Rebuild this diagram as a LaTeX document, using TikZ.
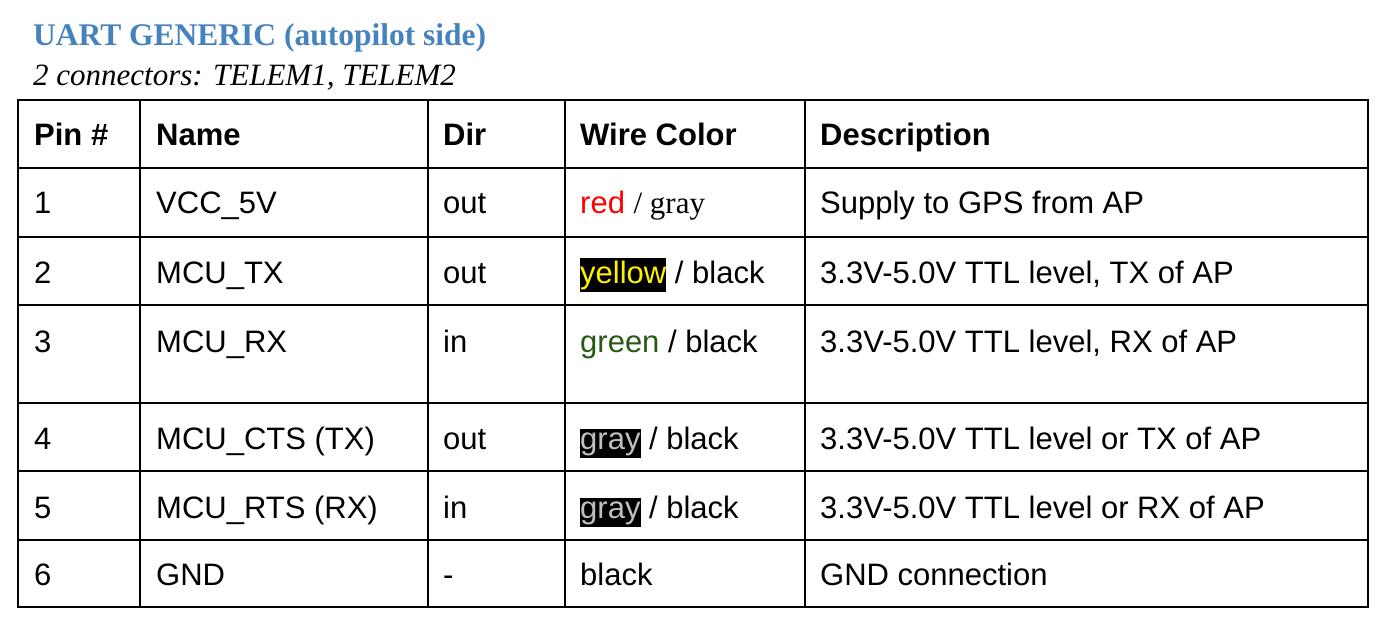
\documentclass[tikz,border=0pt]{standalone}
\usepackage{fontspec}
\setmainfont{Liberation Sans}
\newfontfamily\serifface{Liberation Serif}
\definecolor{titleblue}{RGB}{70,130,190}
\definecolor{wiregreen}{RGB}{40,90,20}
\tikzset{
  cell/.style={anchor=base west,inner sep=0pt,font=\fontsize{31}{34}\selectfont},
  head/.style={cell,font=\fontsize{31}{34}\selectfont\bfseries}
}
\newcommand{\hilite}[2]{\colorbox{black}{\hspace{-3pt}\textcolor{#1}{#2}\hspace{-3pt}}}
\begin{document}
\begin{tikzpicture}[x=1pt,y=-1pt]
\useasboundingbox (0,0) rectangle (1380,620);
\node[anchor=base west,inner sep=0pt,text=titleblue,font=\serifface\fontsize{31.5}{34}\selectfont\bfseries] (title) at (33,46) {UART GENERIC (autopilot side)};
\node[anchor=base west,inner sep=0pt,font=\serifface\fontsize{31}{34}\selectfont\itshape] (sub) at (33,86) {2 connectors: TELEM1, TELEM2};
% grid
\draw[line width=2.5pt] (18,100) rectangle (1368,607);
\foreach \x in {140,428,565,805} \draw[line width=2.5pt] (\x,100) -- (\x,607);
\foreach \y in {168,237,305,403,471,540} \draw[line width=2.5pt] (18,\y) -- (1368,\y);
% header
\node[head] (hpin) at (34,146) {Pin \#};
\node[head] (hname) at (156,146) {Name};
\node[head] (hdir) at (443,146) {Dir};
\node[head] (hwire) at (580,146) {Wire Color};
\node[head] (hdesc) at (820,146) {Description};
% row 1
\node[cell] (p1) at (34,214) {1};
\node[cell] (n1) at (156,214) {VCC\_5V};
\node[cell] (d1) at (443,214) {out};
\node[cell] (w1) at (580,214) {\textcolor{red}{red} {\serifface / gray}};
\node[cell] (s1) at (820,214) {Supply to GPS from AP};
% row 2
\node[cell] (p2) at (34,283) {2};
\node[cell] (n2) at (156,283) {MCU\_TX};
\node[cell] (d2) at (443,283) {out};
\node[cell] (w2) at (580,283) {\hilite{yellow}{yellow} / black};
\node[cell] (s2) at (820,283) {3.3V-5.0V TTL level, TX of AP};
% row 3
\node[cell] (p3) at (34,352) {3};
\node[cell] (n3) at (156,352) {MCU\_RX};
\node[cell] (d3) at (443,352) {in};
\node[cell] (w3) at (580,352) {\textcolor{wiregreen}{green} / black};
\node[cell] (s3) at (820,352) {3.3V-5.0V TTL level, RX of AP};
% row 4
\node[cell] (p4) at (34,449) {4};
\node[cell] (n4) at (156,449) {MCU\_CTS (TX)};
\node[cell] (d4) at (443,449) {out};
\node[cell] (w4) at (580,449) {\hilite{lightgray}{gray} / black};
\node[cell] (s4) at (820,449) {3.3V-5.0V TTL level or TX of AP};
% row 5
\node[cell] (p5) at (34,518) {5};
\node[cell] (n5) at (156,518) {MCU\_RTS (RX)};
\node[cell] (d5) at (443,518) {in};
\node[cell] (w5) at (580,518) {\hilite{lightgray}{gray} / black};
\node[cell] (s5) at (820,518) {3.3V-5.0V TTL level or RX of AP};
% row 6
\node[cell] (p6) at (34,585) {6};
\node[cell] (n6) at (156,585) {GND};
\node[cell] (d6) at (443,585) {-};
\node[cell] (w6) at (580,585) {black};
\node[cell] (s6) at (820,585) {GND connection};
\end{tikzpicture}
\end{document}
